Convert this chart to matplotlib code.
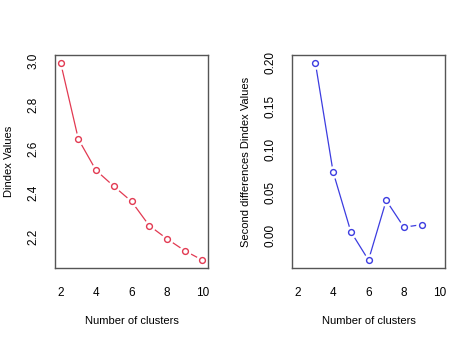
import matplotlib
matplotlib.use('Agg')
import matplotlib.pyplot as plt

# values
clusters = [2, 3, 4, 5, 6, 7, 8, 9, 10]
dindex = [2.991, 2.644, 2.502, 2.430, 2.361, 2.251, 2.191, 2.137, 2.094]

clusters_2nd = [3, 4, 5, 6, 7, 8, 9]
second_diff = [0.200, 0.074, 0.005, -0.028, 0.041, 0.010, 0.013]

xticks = [2, 4, 6, 8, 10]
yticks_left = [2.2, 2.4, 2.6, 2.8, 3.0]
yticks_right = [0.00, 0.05, 0.10, 0.15, 0.20]

plt.rcParams['font.family'] = ['Liberation Sans', 'DejaVu Sans']
plt.rcParams['font.size'] = 8

fig = plt.figure(figsize=(4.74, 3.38), dpi=100)
ax1 = fig.add_axes([55/474, 1-268/338, 153/474, 213/338])
ax2 = fig.add_axes([292/474, 1-268/338, 153/474, 213/338])


def r_type_b(ax, x, y, col):
    # line with gaps at the points, like R's type="b"
    ax.plot(x, y, color=col, lw=0.9, zorder=1)
    ax.plot(x, y, 'o', ms=9, mfc='white', mec='white', mew=0, zorder=2)
    ax.plot(x, y, 'o', ms=4.2, mfc='none', mec=col, mew=1.0, zorder=3)


r_type_b(ax1, clusters, dindex, '#e23a52')
r_type_b(ax2, clusters_2nd, second_diff, '#3c3ce0')

for ax, yt, fmt, lab in [(ax1, yticks_left, '%.1f', 'Dindex Values'),
                         (ax2, yticks_right, '%.2f', 'Second differences Dindex Values')]:
    ax.set_xlim(1.68, 10.32)
    ax.margins(y=0.04)
    ax.set_xticks(xticks)
    ax.set_xticklabels([str(t) for t in xticks], fontsize=8.5)
    ax.set_yticks(yt)
    ax.set_yticklabels([fmt % t for t in yt], rotation=90, va='center', fontsize=8.5)
    ax.tick_params(length=0, pad=11)
    ax.tick_params(axis='x', pad=14)
    ax.set_xlabel('Number of clusters', labelpad=12)
    ax.set_ylabel(lab, labelpad=10)
    for s in ax.spines.values():
        s.set_color('#555555')
        s.set_linewidth(1.0)

fig.savefig('out.png', dpi=100)
